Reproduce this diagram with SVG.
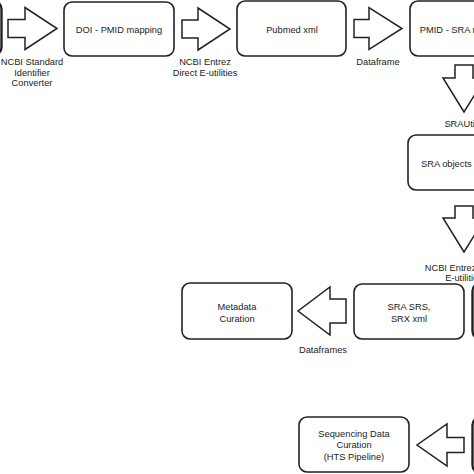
<svg xmlns="http://www.w3.org/2000/svg" width="474" height="474" viewBox="0 0 474 474">
<style>
.box{fill:#fff;stroke:#222;stroke-width:1.6}
.edge{fill:#fff;stroke:#222;stroke-width:2.4}
.arr{fill:#fff;stroke:#222;stroke-width:1.5;stroke-linejoin:miter}
text{font-family:"Liberation Sans",Arial,sans-serif;font-size:9.3px;fill:#222;text-anchor:middle}
</style>
<rect width="474" height="474" fill="#fff"/>
<g id="node-left"><rect class="edge" x="-108" y="1" width="109.5" height="54" rx="8"/></g>
<g id="node-doi"><rect class="box" x="64" y="2" width="110" height="54" rx="8"/><text x="119" y="33">DOI - PMID mapping</text></g>
<g id="node-pubmed"><rect class="box" x="237" y="1" width="109" height="55" rx="8"/><text x="292" y="32.5">Pubmed xml</text></g>
<g id="node-pmid-sra"><rect class="box" x="410" y="1" width="110" height="55" rx="8"/><text x="464" y="32.5">PMID - SRA mapping</text></g>
<g id="node-sra-objects"><rect class="box" x="408" y="135" width="110" height="55" rx="8"/><text x="421" y="166.5" style="text-anchor:start">SRA objects</text></g>
<g id="node-right1"><rect class="edge" x="472.5" y="283" width="110" height="56" rx="8"/></g>
<g id="node-sra-srs"><rect class="box" x="354" y="284" width="110" height="55" rx="8"/><text x="409" y="309.5">SRA SRS,</text><text x="409" y="321.5">SRX xml</text></g>
<g id="node-metadata"><rect class="box" x="182" y="283" width="110" height="56" rx="8"/><text x="237" y="309.5">Metadata</text><text x="237" y="321.5">Curation</text></g>
<g id="node-right2"><rect class="edge" x="472.5" y="417" width="110" height="56" rx="8"/></g>
<g id="node-sequencing"><rect class="box" x="299" y="417" width="110" height="55" rx="8"/><text x="354" y="436.5">Sequencing Data</text><text x="354" y="448">Curation</text><text x="354" y="460">(HTS Pipeline)</text></g>
<g id="connectors">
<polygon class="arr" points="8,19.5 25,19.5 25,7.5 57,28.5 25,49.5 25,37.5 8,37.5"/>
<text x="32" y="64.5">NCBI Standard</text><text x="32" y="75.5">Identifier</text><text x="32" y="86">Converter</text>
<polygon class="arr" points="182,20 198,20 198,8 230,29 198,50 198,38 182,38"/>
<text x="205" y="64.5">NCBI Entrez</text><text x="205" y="75.5">Direct E-utilities</text>
<polygon class="arr" points="354,19.5 369,19.5 369,7.5 402,28.5 369,49.5 369,37.5 354,37.5"/>
<text x="378" y="64.5">Dataframe</text>
<polygon class="arr" points="455,65 473,65 473,78 485,78 464,112 443,78 455,78"/>
<text x="463" y="126.5">SRAUtils</text>
<polygon class="arr" points="455,206 473,206 473,218 485,218 464,252 443,218 455,218"/>
<text x="464" y="270.5">NCBI Entrez Direct</text><text x="464" y="281">E-utilities</text>
<polygon class="arr" points="346,299 330,299 330,287 298,311 330,335 330,323 346,323"/>
<text x="323" y="353">Dataframes</text>
<polygon class="arr" points="464,437.5 447,437.5 447,424 417,445 447,466 447,452.5 464,452.5"/>
</g>
</svg>
